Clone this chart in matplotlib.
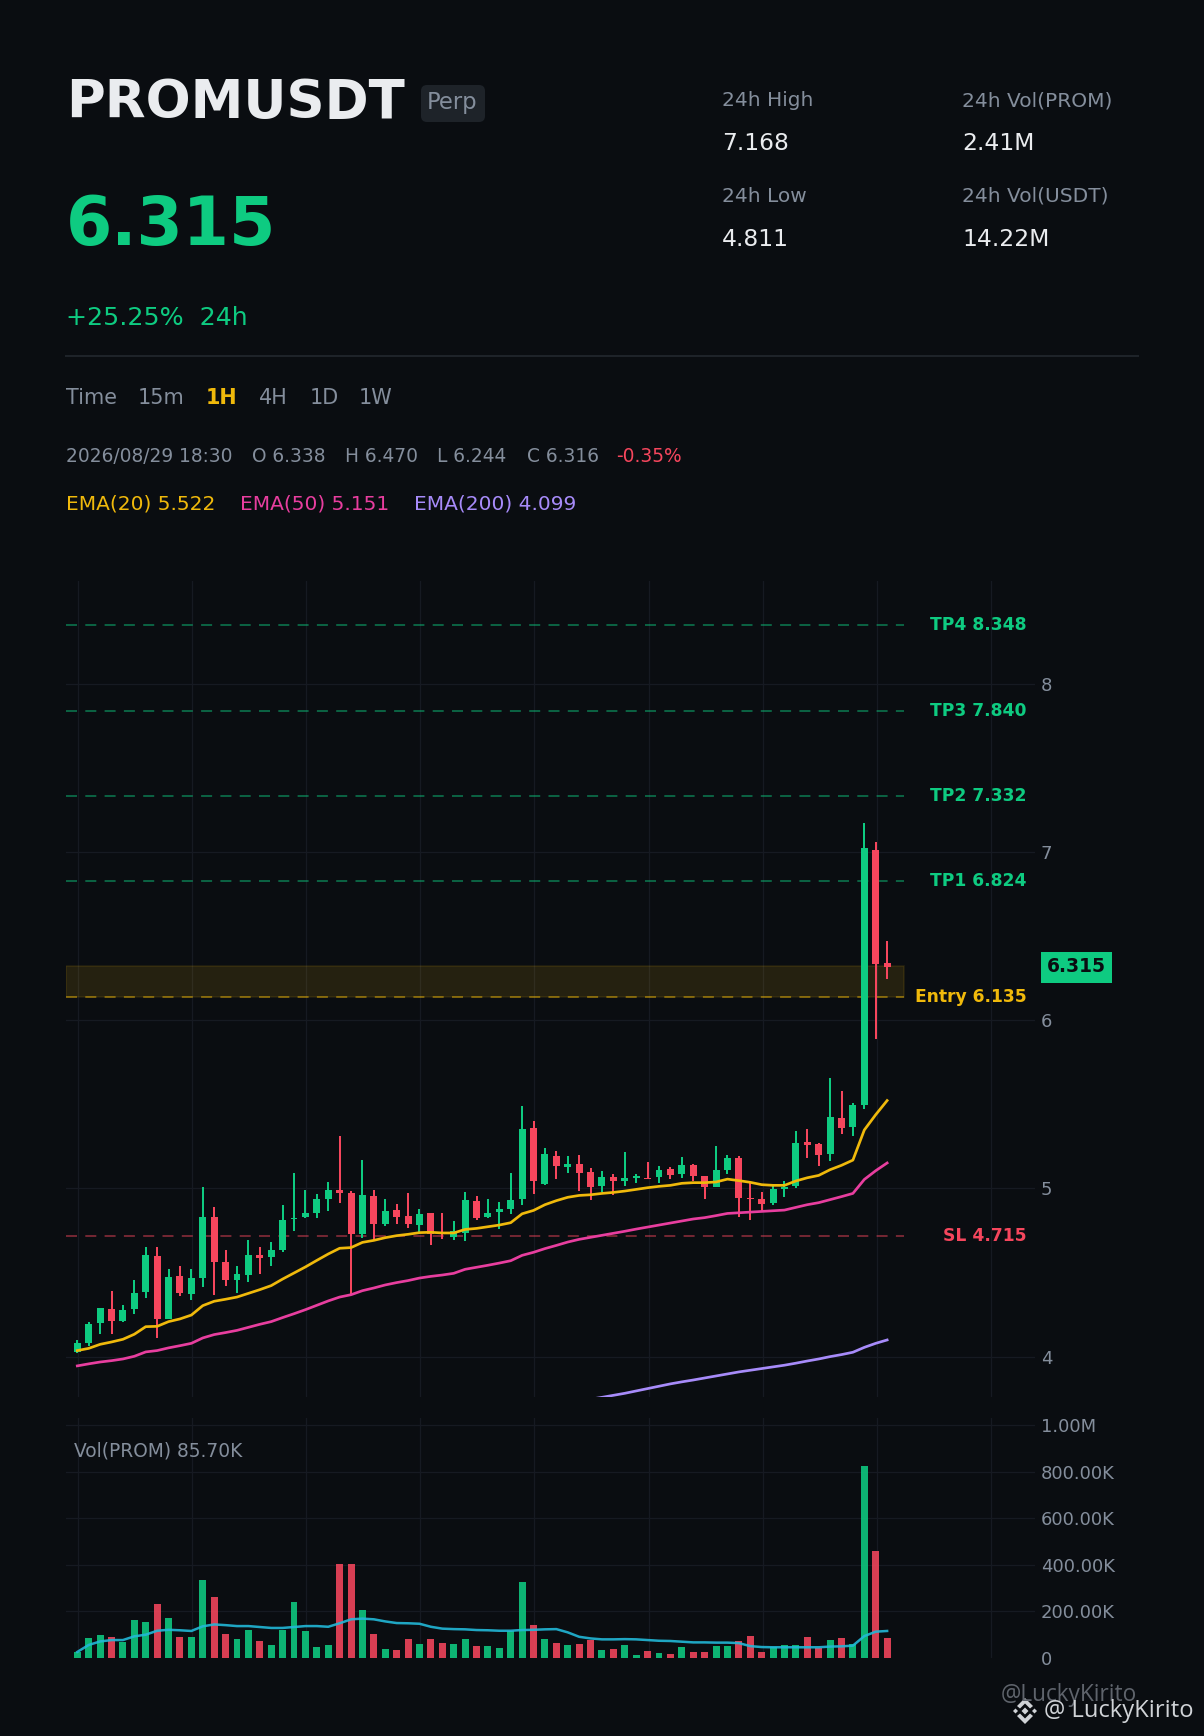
import numpy as np
import matplotlib
matplotlib.use("Agg")
import matplotlib.pyplot as plt
from matplotlib.patches import Rectangle, FancyBboxPatch, Polygon

W, H = 1204, 1736

# hourly candles
opens = [4.028, 4.081, 4.200, 4.283, 4.212, 4.283, 4.384, 4.598, 4.224, 4.479,
         4.372, 4.467, 4.830, 4.562, 4.455, 4.485, 4.604, 4.592, 4.634, 4.818,
         4.830, 4.853, 4.937, 4.990, 4.972, 4.729, 4.954, 4.788, 4.871, 4.836,
         4.782, 4.853, 4.741, 4.713, 4.735, 4.925, 4.830, 4.859, 4.877, 4.937,
         5.358, 5.026, 5.192, 5.127, 5.145, 5.097, 5.014, 5.067, 5.043, 5.061,
         5.061, 5.067, 5.115, 5.085, 5.139, 5.073, 5.008, 5.109, 5.180, 4.943,
         4.937, 4.913, 4.996, 5.014, 5.275, 5.263, 5.204, 5.418, 5.364, 5.496,
         7.014, 6.338]
highs = [4.099, 4.206, 4.289, 4.390, 4.307, 4.455, 4.652, 4.652, 4.521, 4.539,
         4.521, 5.008, 4.889, 4.634, 4.539, 4.693, 4.652, 4.681, 4.901, 5.091,
         4.990, 4.966, 5.038, 5.311, 4.984, 5.168, 4.990, 4.937, 4.907, 4.972,
         4.877, 4.853, 4.853, 4.806, 4.978, 4.954, 4.937, 4.919, 5.091, 5.489,
         5.400, 5.240, 5.222, 5.192, 5.198, 5.121, 5.103, 5.085, 5.216, 5.085,
         5.156, 5.133, 5.127, 5.186, 5.145, 5.073, 5.252, 5.198, 5.192, 5.038,
         4.978, 5.014, 5.044, 5.341, 5.353, 5.269, 5.655, 5.578, 5.507, 7.169,
         7.056, 6.470]
lows = [4.022, 4.063, 4.135, 4.135, 4.206, 4.253, 4.349, 4.111, 4.224, 4.360,
        4.337, 4.414, 4.366, 4.420, 4.378, 4.444, 4.491, 4.539, 4.622, 4.747,
        4.824, 4.824, 4.865, 4.913, 4.372, 4.705, 4.693, 4.776, 4.788, 4.764,
        4.741, 4.663, 4.699, 4.693, 4.687, 4.812, 4.824, 4.758, 4.847, 4.901,
        4.966, 5.020, 5.055, 5.091, 4.984, 4.931, 4.978, 4.960, 5.014, 5.032,
        5.055, 5.032, 5.055, 5.061, 5.043, 4.937, 5.008, 5.085, 4.830, 4.812,
        4.863, 4.901, 4.949, 5.002, 5.180, 5.133, 5.162, 5.323, 5.311, 5.472,
        5.889, 6.244]
closes = [4.081, 4.194, 4.289, 4.212, 4.277, 4.378, 4.604, 4.224, 4.473, 4.378,
          4.467, 4.830, 4.562, 4.455, 4.491, 4.604, 4.586, 4.634, 4.812, 4.824,
          4.853, 4.937, 4.990, 4.972, 4.729, 4.960, 4.788, 4.865, 4.830, 4.788,
          4.848, 4.729, 4.729, 4.747, 4.931, 4.824, 4.853, 4.877, 4.931, 5.352,
          5.043, 5.204, 5.133, 5.145, 5.091, 5.008, 5.067, 5.043, 5.061, 5.073,
          5.055, 5.109, 5.079, 5.139, 5.073, 5.008, 5.109, 5.180, 4.943, 4.937,
          4.907, 4.996, 5.008, 5.269, 5.258, 5.198, 5.424, 5.358, 5.495, 7.026,
          6.335, 6.316]

ema20 = [4.036, 4.049, 4.073, 4.087, 4.103, 4.133, 4.178, 4.180, 4.208, 4.224,
         4.247, 4.303, 4.329, 4.341, 4.354, 4.376, 4.398, 4.422, 4.461, 4.497,
         4.533, 4.572, 4.610, 4.644, 4.648, 4.679, 4.691, 4.707, 4.719, 4.727,
         4.737, 4.739, 4.735, 4.735, 4.756, 4.762, 4.772, 4.782, 4.796, 4.849,
         4.869, 4.903, 4.927, 4.947, 4.958, 4.962, 4.970, 4.976, 4.984, 4.994,
         5.004, 5.012, 5.018, 5.030, 5.034, 5.034, 5.038, 5.055, 5.046, 5.036,
         5.022, 5.018, 5.018, 5.044, 5.063, 5.077, 5.111, 5.137, 5.168, 5.347,
         5.438, 5.522]
ema50 = [3.945, 3.957, 3.968, 3.976, 3.986, 4.002, 4.028, 4.036, 4.052, 4.065,
         4.079, 4.111, 4.131, 4.143, 4.156, 4.174, 4.192, 4.208, 4.232, 4.255,
         4.279, 4.305, 4.331, 4.354, 4.368, 4.392, 4.408, 4.426, 4.440, 4.452,
         4.467, 4.477, 4.485, 4.495, 4.519, 4.531, 4.543, 4.556, 4.570, 4.602,
         4.620, 4.642, 4.661, 4.681, 4.697, 4.709, 4.721, 4.733, 4.745, 4.758,
         4.770, 4.782, 4.794, 4.806, 4.818, 4.826, 4.838, 4.851, 4.855, 4.859,
         4.863, 4.867, 4.871, 4.887, 4.903, 4.915, 4.933, 4.951, 4.970, 5.053,
         5.105, 5.151]
# only the part that comes into view, starts at candle 45
ema200_start = 45
ema200 = [3.747, 3.758, 3.770, 3.782, 3.796, 3.810, 3.824, 3.838, 3.850, 3.861,
          3.873, 3.885, 3.897, 3.909, 3.919, 3.929, 3.939, 3.949, 3.961, 3.974,
          3.986, 4.000, 4.012, 4.026, 4.055, 4.079, 4.099]

volumes = [26, 86, 99, 90, 69, 163, 154, 231, 171, 90,
           90, 334, 261, 103, 81, 120, 73, 56, 120, 240,
           116, 47, 56, 403, 403, 206, 103, 39, 34, 81,
           60, 81, 64, 60, 81, 51, 51, 43, 116, 326,
           141, 81, 64, 56, 60, 77, 34, 39, 56, 13,
           30, 21, 17, 47, 26, 26, 51, 51, 73, 94,
           26, 47, 56, 56, 90, 43, 77, 86, 60, 823,
           459, 85.7]
vol_ma = [26, 56, 71, 77, 77, 93, 100, 117, 121, 119,
          116, 136, 144, 141, 137, 137, 133, 129, 129, 133,
          137, 137, 134, 149, 166, 169, 166, 157, 150, 149,
          147, 134, 126, 124, 123, 120, 119, 117, 117, 120,
          121, 123, 124, 110, 91, 84, 80, 80, 81, 80,
          77, 74, 73, 70, 67, 67, 66, 66, 64, 51,
          47, 46, 46, 46, 46, 46, 49, 50, 53, 94,
          113, 116]

level_names = ["TP4", "TP3", "TP2", "TP1", "Entry", "SL"]
level_prices = [8.348, 7.840, 7.332, 6.824, 6.135, 4.715]
last_price = 6.315
zone_top = 6.32

price_ticks = [4, 5, 6, 7, 8]
vol_ticks = [0, 200, 400, 600, 800, 1000]
vol_tick_labels = ["0", "200.00K", "400.00K", "600.00K", "800.00K", "1.00M"]

BG = "#0a0d11"
GRID = "#161a22"
UP = "#0ecb81"
DOWN = "#f6465d"
GOLD = "#f0b90b"
PINK = "#e83e9f"
PURPLE = "#a78bfa"
CYAN = "#22b8d8"
MUTED = "#848e9c"
WHITE = "#eaecef"


def pt(px):
    return px * 0.72


def panel(left, top, right, bottom):
    return fig.add_axes([left / W, 1 - bottom / H, (right - left) / W, (bottom - top) / H])


fig = plt.figure(figsize=(W / 100, H / 100), dpi=100, facecolor=BG)
plt.rcParams['font.family'] = ['DejaVu Sans']

ax = panel(66, 581, 1035, 1397)
axv = panel(66, 1418, 1035, 1658)

x = np.arange(len(opens))
colors = [UP if c >= o else DOWN for o, c in zip(opens, closes)]
xlim = ((66 - 77.3) / 11.406, (1035 - 77.3) / 11.406)

for a in (ax, axv):
    a.set_facecolor(BG)
    a.set_xlim(*xlim)
    a.set_xticks(np.arange(0, 81, 10) + 0.08)
    a.tick_params(axis='x', length=0, labelbottom=False)
    a.tick_params(axis='y', length=0, labelleft=False, labelright=True, pad=pt(6),
                  labelcolor=MUTED, labelsize=pt(18))
    a.grid(True, color=GRID, lw=pt(1.3))
    a.set_axisbelow(True)
    for s in a.spines.values():
        s.set_visible(False)

# price panel
ax.set_ylim(3.76, 8.61)
ax.set_yticks(price_ticks)
ax.set_yticklabels([str(t) for t in price_ticks])

line_end = (904 - 66) / (1035 - 66)
label_x = (1027 - 66) / (1035 - 66)
ax.add_patch(Rectangle((0, level_prices[4]), line_end, zone_top - level_prices[4],
                       transform=ax.get_yaxis_transform(), facecolor=GOLD, alpha=0.12,
                       edgecolor=GOLD, lw=pt(1.5), zorder=1))
for name, price in zip(level_names, level_prices):
    col = GOLD if name == "Entry" else DOWN if name == "SL" else UP
    ax.plot([0, line_end], [price, price], transform=ax.get_yaxis_transform(), color=col,
            lw=pt(1.6), alpha=0.55, dashes=(11 / 1.6, 8.3 / 1.6), zorder=1.5)
    ax.text(label_x, price, f"{name} {price:.3f}", transform=ax.get_yaxis_transform(),
            color=col, fontsize=pt(17.1), fontweight='bold', ha='right', va='center')

ax.vlines(x, lows, highs, colors=colors, lw=pt(2), zorder=3)
ax.bar(x, np.array(closes) - np.array(opens), bottom=opens, width=0.61, color=colors,
       linewidth=0, zorder=3)

ax.plot(x, ema20, color=GOLD, lw=pt(2.7), zorder=4, solid_joinstyle='round')
ax.plot(x, ema50, color=PINK, lw=pt(2.7), zorder=4, solid_joinstyle='round')
ax.plot(x[ema200_start:], ema200, color=PURPLE, lw=pt(2.7), zorder=4, solid_joinstyle='round')

# volume panel
axv.set_ylim(0, 1030)
axv.set_yticks(vol_ticks)
axv.set_yticklabels(vol_tick_labels)
axv.yaxis.get_gridlines()[0].set_visible(False)
axv.bar(x, volumes, width=0.61, color=colors, alpha=0.88, linewidth=0, zorder=3)
axv.plot(x, vol_ma, color=CYAN, lw=pt(2.5), alpha=0.9, zorder=4)

# everything around the panels, in pixels
ui = fig.add_axes([0, 0, 1, 1], facecolor='none')
ui.set_xlim(0, W)
ui.set_ylim(H, 0)
ui.axis('off')


def label(px, py, s, color=MUTED, size=20, weight='normal', **kw):
    ui.text(px, py, s, color=color, fontsize=pt(size), fontweight=weight, va='center', **kw)


label(66, 103, "PROMUSDT", WHITE, 53, 'bold')
ui.add_patch(FancyBboxPatch((424, 88), 58, 31, boxstyle="round,pad=3,rounding_size=6",
                            facecolor="#1e2329", edgecolor='none'))
label(427, 103, "Perp", MUTED, 22.6)
label(66, 226, "6.315", UP, 66.5, 'bold')
label(66, 318, "+25.25%  24h", UP, 25.2)

label(722, 101, "24h High", MUTED, 20.1)
label(722, 144, "7.168", WHITE, 23.4)
label(722, 196, "24h Low", MUTED, 20.1)
label(722, 239, "4.811", WHITE, 23.4)
label(962.5, 101, "24h Vol(PROM)", MUTED, 20.1)
label(962.5, 144, "2.41M", WHITE, 23.4)
label(962.5, 196, "24h Vol(USDT)", MUTED, 20.1)
label(962.5, 239, "14.22M", WHITE, 23.4)

ui.plot([66, 1138], [356, 356], color="#1e2329", lw=pt(2))

for px, s in zip([66, 138, 259, 310, 359], ["Time", "15m", "4H", "1D", "1W"]):
    label(px, 398, s, MUTED, 20.8)
label(206, 398, "1H", GOLD, 20.8, 'bold')

for px, s in zip([66, 252, 345, 437, 527],
                 ["2026/08/29 18:30", "O 6.338", "H 6.470", "L 6.244", "C 6.316"]):
    label(px, 456, s, MUTED, 18.7)
label(616.5, 456, "-0.35%", DOWN, 18.7)

label(66, 504, "EMA(20) 5.522", GOLD, 20.2)
label(240, 504, "EMA(50) 5.151", PINK, 20.2)
label(414, 504, "EMA(200) 4.099", PURPLE, 20.2)

label(74, 1451, "Vol(PROM) 85.70K", MUTED, 18.6)

# last price tag
ui.add_patch(Rectangle((1041, 952), 71, 31, facecolor=UP, edgecolor='none'))
label(1076.5, 967, "6.315", BG, 18.8, 'bold', ha='center')

# watermarks
label(1001, 1695, "@LuckyKirito", "#5f646c", 22.6, family='Open Sans')
label(1044, 1711, "@ LuckyKirito", "#d0d3d7", 23.8, family='Open Sans')
lx, ly = 1025, 1711
for cx, cy, r in [(lx, ly, 3.5), (lx - 9.5, ly, 2.5), (lx + 9.5, ly, 2.5)]:
    ui.add_patch(Polygon([(cx - r, cy), (cx, cy - r), (cx + r, cy), (cx, cy + r)], color="#d0d3d7", lw=0))
for sign in (-1, 1):
    ui.add_patch(Polygon([(lx - 8, ly + sign * 5), (lx, ly + sign * 13), (lx + 8, ly + sign * 5),
                          (lx + 5, ly + sign * 2.5), (lx, ly + sign * 7.5), (lx - 5, ly + sign * 2.5)],
                         color="#d0d3d7", lw=0))

fig.savefig("out.png", dpi=100, facecolor=BG)
